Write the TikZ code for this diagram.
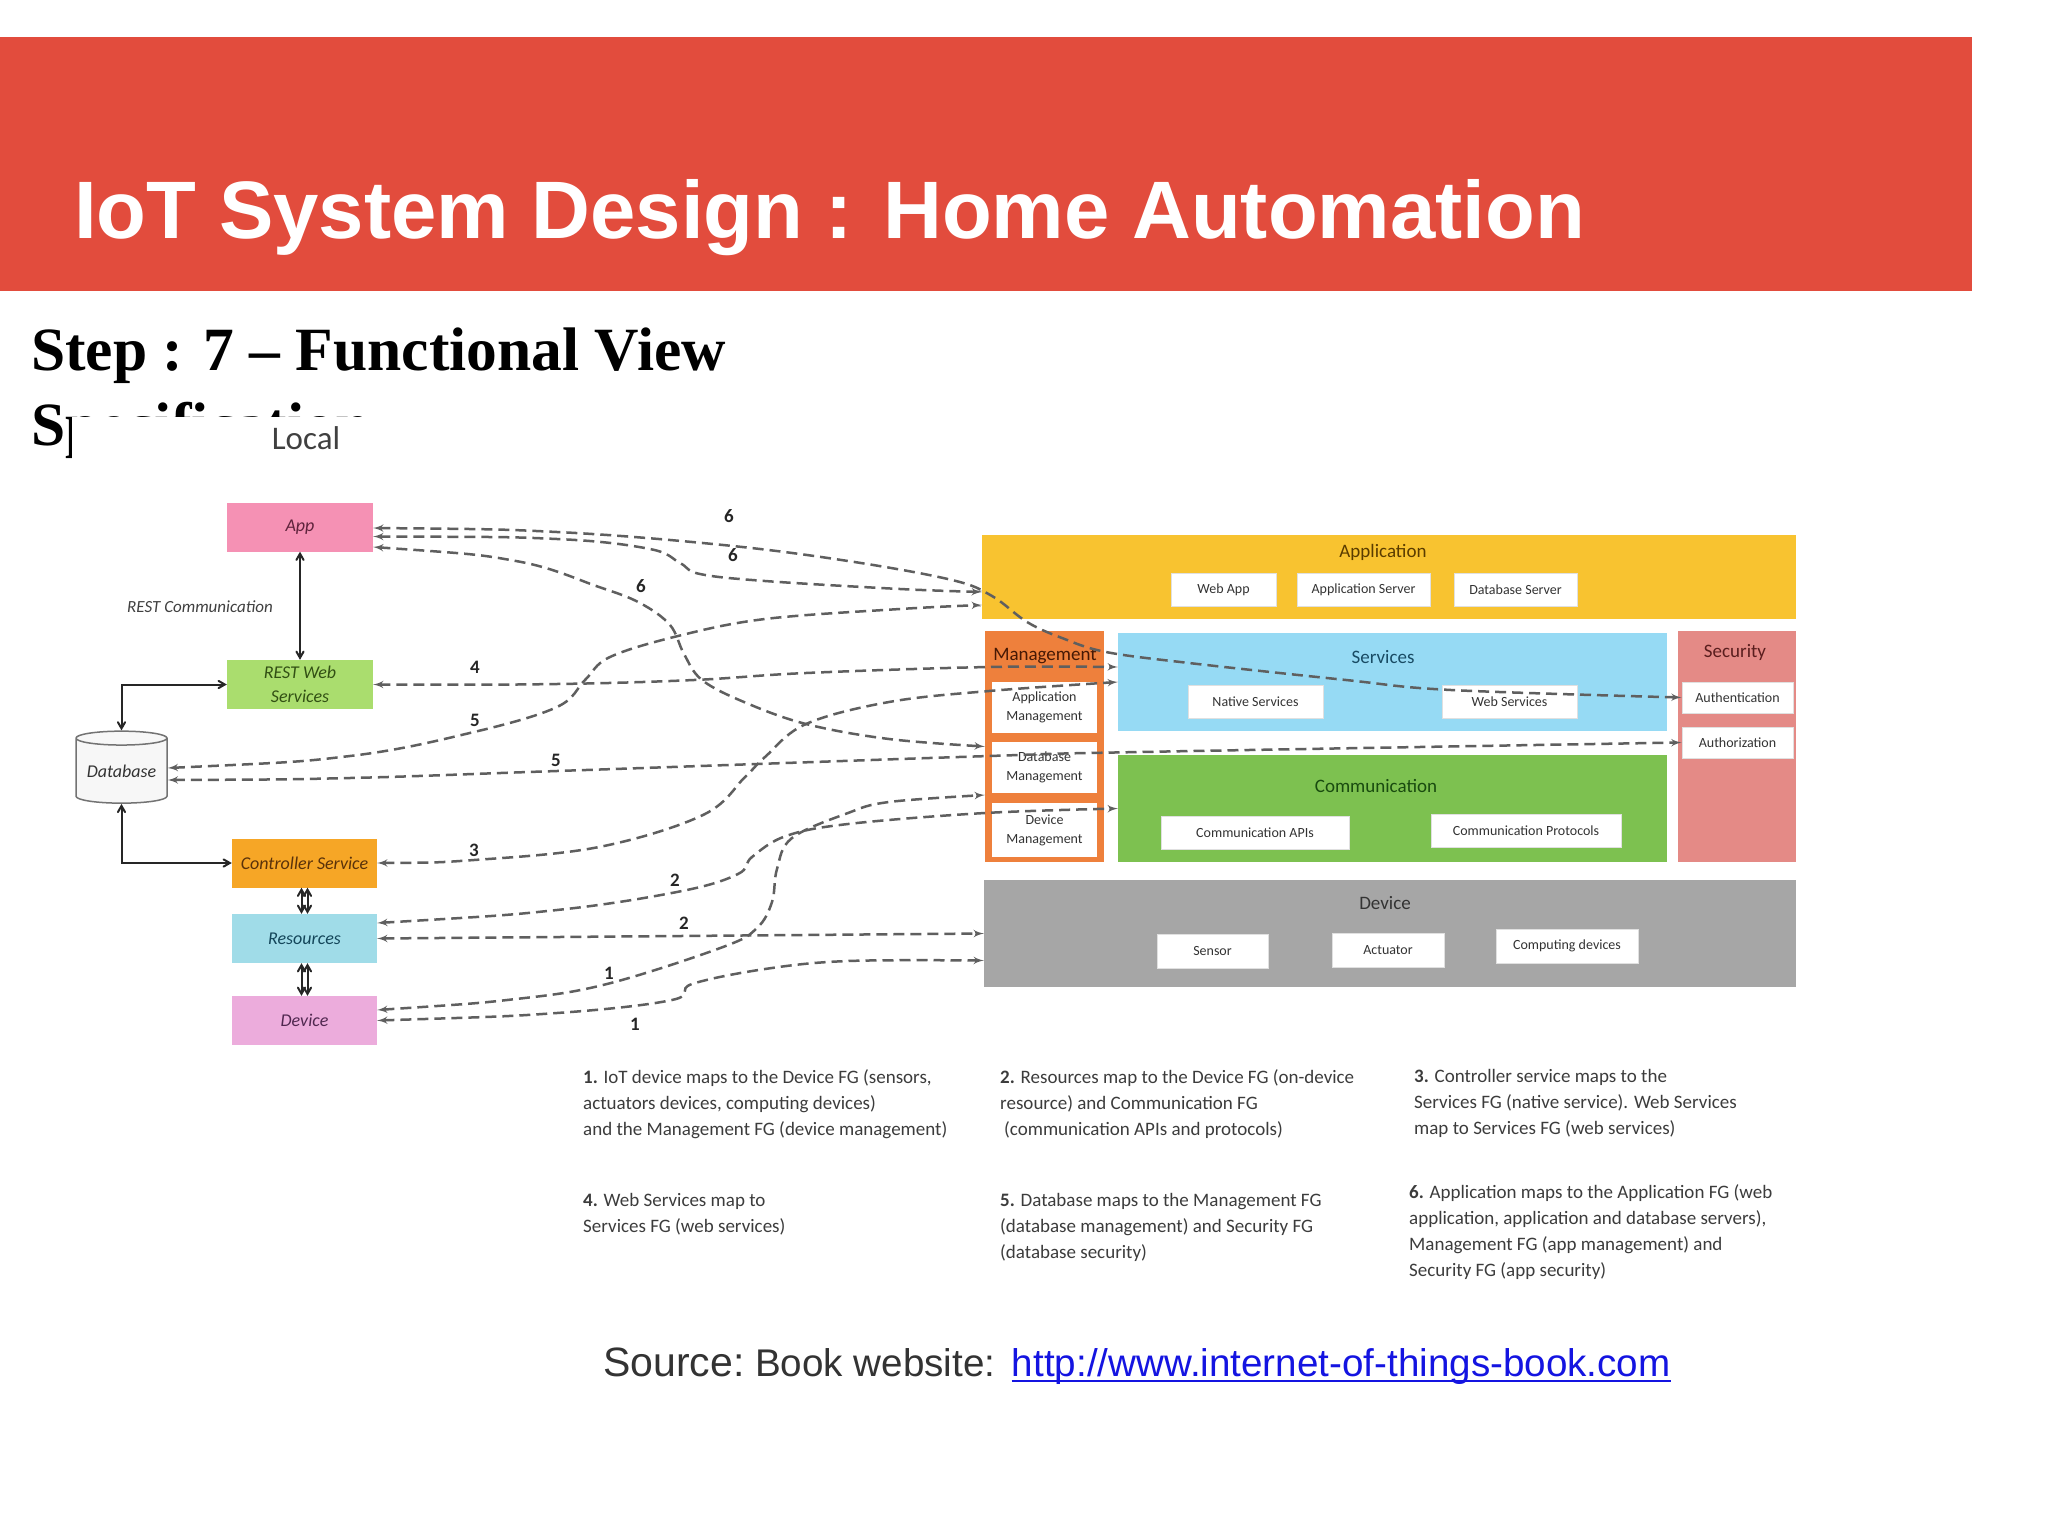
\documentclass[tikz,border=0pt]{standalone}
\usepackage{fontspec}
\setmainfont{Carlito}
\newfontfamily\headfont{Liberation Sans}
\newfontfamily\stepfont{Liberation Serif}
\usepackage{xcolor}
\usetikzlibrary{arrows,shapes.geometric}

\definecolor{banner}{RGB}{226,76,61}
\definecolor{apppink}{RGB}{245,145,180}
\definecolor{restgreen}{RGB}{170,221,110}
\definecolor{ctrlorange}{RGB}{246,166,38}
\definecolor{resblue}{RGB}{160,220,232}
\definecolor{devpink}{RGB}{236,172,220}
\definecolor{fgapp}{RGB}{248,195,48}
\definecolor{fgmgmt}{RGB}{238,128,60}
\definecolor{fgserv}{RGB}{150,218,244}
\definecolor{fgcomm}{RGB}{125,193,80}
\definecolor{fgsec}{RGB}{228,138,134}
\definecolor{fgdev}{RGB}{166,166,166}
\definecolor{linkgray}{RGB}{95,95,95}
\definecolor{notegray}{RGB}{60,60,60}
\definecolor{urlblue}{RGB}{20,20,225}

\begin{document}
\begin{tikzpicture}[x=1pt, y=-1pt, >=latex',
  leftnode/.style={inner sep=0pt, minimum width=146pt, minimum height=49pt, align=center, font=\fontsize{18}{24}\selectfont\itshape},
  band/.style={inner sep=0pt},
  fgtitle/.style={inner sep=0pt, font=\fontsize{19}{22}\selectfont},
  fgitem/.style={fill=white, draw=black!12, line width=1pt, inner sep=0pt, minimum height=33pt, align=center, font=\fontsize{14}{19}\selectfont, text=black!80},
  wire/.style={line width=2pt, black!85, angle 60-angle 60},
  link/.style={linkgray, line width=2.5pt, dash pattern=on 11pt off 6pt, <->},
  num/.style={inner sep=0pt, font=\fontsize{19}{22}\selectfont\bfseries, text=black!85},
  note/.style={anchor=north west, align=left, inner sep=0pt, font=\fontsize{19}{26}\selectfont, text=notegray}]

\useasboundingbox[fill=white] (0,0) rectangle (2048,1536);
\fill[banner] (0,37) rectangle (1972,291);
\node[anchor=base west, inner sep=0pt, text=white, font=\headfont\bfseries\fontsize{81.5}{90}\selectfont] (title) at (74,238) {IoT System Design : Home Automation};
\node[anchor=base west, inner sep=0pt, font=\stepfont\bfseries\fontsize{61.5}{75}\selectfont] (step) at (31,370) {Step : 7 – Functional View};
\node[anchor=base west, inner sep=0pt, font=\stepfont\bfseries\fontsize{61.5}{75}\selectfont] (spec) at (31,445) {Specification};
\fill[white] (72,417) rectangle (460,478);
\node[text=black!75, font=\fontsize{33}{36}\selectfont] (local) at (306,438) {Local};

\node[leftnode, fill=apppink, text={rgb,255:red,95;green,35;blue,60}] (app) at (300,527) {App};
\node[leftnode, fill=restgreen, text={rgb,255:red,50;green,80;blue,20}] (rest) at (300,684.5) {REST Web\\Services};
\node[cylinder, shape border rotate=90, aspect=0.2, draw=black!55, line width=1.5pt, fill=black!3, minimum width=91pt, minimum height=72pt, inner sep=0pt, font=\fontsize{18}{20}\selectfont\itshape, text=black!80] (db) at (121.5,771) {Database};
\node[leftnode, minimum width=145pt, fill=ctrlorange, text={rgb,255:red,90;green,50;blue,10}] (ctrl) at (304.5,863) {Controller Service};
\node[leftnode, minimum width=145pt, fill=resblue, text={rgb,255:red,20;green,70;blue,90}] (res) at (304.5,938.5) {Resources};
\node[leftnode, minimum width=145pt, fill=devpink, text={rgb,255:red,80;green,40;blue,80}] (dev) at (304.5,1020.5) {Device};
\node[font=\fontsize{17}{20}\selectfont\itshape, text=black!75] (restcomm) at (200,607) {REST Communication};

\draw[wire] (app) -- (rest);
\draw[wire] (db.north) |- (rest.west);
\draw[wire] (db.south) |- (ctrl.west);
\draw[wire] ([xshift=-3pt]ctrl.south) -- ([xshift=-3pt]res.north);
\draw[wire] ([xshift=3pt]ctrl.south) -- ([xshift=3pt]res.north);
\draw[wire] ([xshift=-3pt]res.south) -- ([xshift=-3pt]dev.north);
\draw[wire] ([xshift=3pt]res.south) -- ([xshift=3pt]dev.north);

\node[band, fill=fgapp, minimum width=814pt, minimum height=84pt] (appl) at (1389,577) {};
\node[band, fill=fgmgmt, minimum width=119pt, minimum height=231pt] (mgmt) at (1044.5,746.5) {};
\node[band, fill=fgserv, minimum width=549pt, minimum height=98pt] (serv) at (1392.5,682) {};
\node[band, fill=fgcomm, minimum width=549pt, minimum height=107pt] (comm) at (1392.5,808.5) {};
\node[band, fill=fgsec, minimum width=118pt, minimum height=231pt] (sec) at (1737,746.5) {};
\node[band, fill=fgdev, minimum width=812pt, minimum height=107pt] (devb) at (1390,933.5) {};

\node[fgtitle, text={rgb,255:red,90;green,60;blue,0}] (applT) at (1383,552) {Application};
\node[fgtitle, text={rgb,255:red,70;green,25;blue,5}] (mgmtT) at (1045,656) {Management};
\node[fgtitle, text={rgb,255:red,25;green,75;blue,100}] (servT) at (1383,657) {Services};
\node[fgtitle, text={rgb,255:red,25;green,75;blue,15}] (commT) at (1376,786) {Communication};
\node[fgtitle, text={rgb,255:red,90;green,30;blue,30}] (secT) at (1735,652) {Security};
\node[fgtitle, text=black!80] (devbT) at (1385,903) {Device};

\node[fgitem, minimum width=105pt] (webapp) at (1223.5,589.5) {Web App};
\node[fgitem, minimum width=133pt] (appserv) at (1363.5,589.5) {Application Server};
\node[fgitem, minimum width=123pt] (dbserv) at (1515.5,589.5) {Database Server};
\node[fgitem, minimum width=135pt] (native) at (1255.5,701.5) {Native Services};
\node[fgitem, minimum width=135pt] (websvc) at (1509.5,701.5) {Web Services};
\node[fgitem, minimum width=111pt, minimum height=31pt] (authn) at (1737.5,697.5) {Authentication};
\node[fgitem, minimum width=111pt, minimum height=31pt] (authz) at (1737.5,742.5) {Authorization};
\node[fgitem, minimum width=188pt] (commapi) at (1255,832.5) {Communication APIs};
\node[fgitem, minimum width=190pt] (commproto) at (1526,830.5) {Communication Protocols};
\node[fgitem, minimum width=111pt, minimum height=34pt] (sensor) at (1212.5,951) {Sensor};
\node[fgitem, minimum width=112pt, minimum height=34pt] (actuator) at (1388,950) {Actuator};
\node[fgitem, minimum width=142pt, minimum height=34pt] (compdev) at (1567,946) {Computing devices};
\node[fgitem, draw=none, minimum width=105pt, minimum height=51pt] (appmgmt) at (1044.5,707.5) {Application\\Management};
\node[fgitem, draw=none, minimum width=105pt, minimum height=51pt] (dbmgmt) at (1044.5,767.5) {Database\\Management};
\node[fgitem, draw=none, minimum width=105pt, minimum height=54pt] (devmgmt) at (1044.5,830) {Device\\Management};

\draw[link] plot[smooth, tension=0.6] coordinates {([yshift=-1pt]app.east) (557,532) (723,545) (848,561) (952,580) (992,596) (1027,622) (1062,638) (1106,652) (1189,663) (1346,680) (1451,690) (authn.west)};
\draw[link] plot[smooth, tension=0.6] coordinates {([yshift=-9.5pt]app.east) (557,539) (650,549) (680,563) (700,574) (765,581) (900,589) ([yshift=-15pt]appl.west)};
\draw[link] plot[smooth, tension=0.6] coordinates {([yshift=-20pt]app.east) (516,561) (599,587) (640,603) (670,625) (684,654) (702,680) (744,702) (806,724) (889,739) (mgmt.west)};
\draw[link] plot[smooth, tension=0.6] coordinates {(rest.east) (557,684) (694,680) (806,673) (989,667) ([yshift=15pt]serv.west)};
\draw[link] plot[smooth, tension=0.6] coordinates {(ctrl.east) (474,860) (599,847) (703,815) (745,777) (765,757) (806,724) (889,702) (989,691) (serv.west)};
\draw[link] plot[smooth, tension=0.6] coordinates {([yshift=3pt]db.east) (350,756) (474,732) (557,707) (585,680) (610,657) (678,636) (765,619) (900,609) ([yshift=-28pt]appl.west)};
\draw[link] plot[smooth, tension=0.6] coordinates {([yshift=-9pt]db.east) (350,778) (557,771) (989,756) (1140,752) (authz.west)};
\draw[link] plot[smooth, tension=0.6] coordinates {([yshift=15.5pt]res.east) (557,910) (682,891) (738,874) (752,857) (786,836) (848,824) (985,813) (comm.west)};
\draw[link] (res.east) -- (devb.west);
\draw[link] plot[smooth, tension=0.6] coordinates {([yshift=10.5pt]dev.east) (516,999) (607,984) (723,947) (757,928) (772,902) (777,869) (792,838) (848,813) (889,802) ([yshift=-48.5pt]mgmt.west)};
\draw[link] plot[smooth, tension=0.6] coordinates {(dev.east) (557,1013) (672,1000) (692,984) (765,969) (848,961) ([yshift=-27pt]devb.west)};

\node[num] (n6a) at (729,516) {6};
\node[num] (n6b) at (733,555) {6};
\node[num] (n6c) at (641,586) {6};
\node[num] (n4) at (475,667) {4};
\node[num] (n5a) at (475,720) {5};
\node[num] (n5b) at (556,760) {5};
\node[num] (n3) at (474,850) {3};
\node[num] (n2a) at (675,880) {2};
\node[num] (n2b) at (684,923) {2};
\node[num] (n1a) at (609,973) {1};
\node[num] (n1b) at (635,1024) {1};

\node[note] (note1) at (583,1069) {\textbf{1.} IoT device maps to the Device FG (sensors,\\actuators devices, computing devices)\\and the Management FG (device management)};
\node[note] (note2) at (1000,1069) {\textbf{2.} Resources map to the Device FG (on-device\\resource) and Communication FG\\\hspace{4pt}(communication APIs and protocols)};
\node[note] (note3) at (1414,1069) {\textbf{3.} Controller service maps to the\\Services FG (native service). Web Services\\map to Services FG (web services)};
\node[note] (note4) at (583,1193) {\textbf{4.} Web Services map to\\Services FG (web services)};
\node[note] (note5) at (1000,1193) {\textbf{5.} Database maps to the Management FG\\(database management) and Security FG\\(database security)};
\node[note] (note6) at (1409,1184) {\textbf{6.} Application maps to the Application FG (web\\application, application and database servers),\\Management FG (app management) and\\Security FG (app security)};

\node[anchor=base west, inner sep=0pt, text=black!80, font=\headfont\fontsize{38.6}{44}\selectfont] (source) at (603,1376) {{\fontsize{41}{44}\selectfont Source:}\ Book website:};
\node[anchor=base west, inner sep=0pt, text=urlblue, font=\headfont\fontsize{38.6}{44}\selectfont] (url) at ([xshift=16pt]source.base east) {http://www.internet-of-things-book.com};
\draw[urlblue, line width=2.5pt] ([yshift=-5pt]url.base west) -- ([yshift=-5pt]url.base east);

\end{tikzpicture}
\end{document}
